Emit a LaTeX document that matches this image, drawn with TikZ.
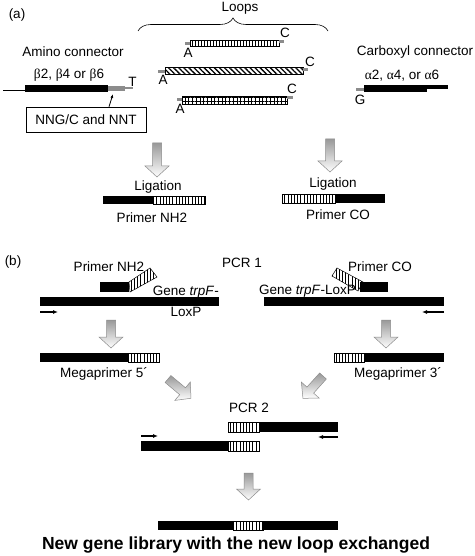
\documentclass[tikz,border=0pt]{standalone}
\usepackage{fontspec}
\setmainfont{Liberation Sans}
\newfontfamily\grk{Liberation Serif}
\usetikzlibrary{calc,patterns.meta,decorations.pathreplacing,arrows.meta}

% block arrow: (tail centre)(angle:length)
\def\blockarrow(#1)(#2:#3){%
	\begin{scope}[shift={(#1)},rotate=#2]
		\shade[draw=black!45, line width=0.5pt, top color=black!40, bottom color=white]
		(-4.5,0) -- (4.5,0) -- (4.5,#3-11) -- (12,#3-11) -- (0,#3) -- (-12,#3-11) -- (-4.5,#3-11) -- cycle;
	\end{scope}}

\begin{document}
\begin{tikzpicture}[x=1pt,y=-1pt,
	lbl/.style={inner sep=0pt, font=\fontsize{13.5}{16}\selectfont},
	bar/.style={fill=black},
	tailbar/.style={fill=black!45},
	vstripe/.style={draw=black, line width=0.5pt, pattern={Lines[angle=90,distance=3.2pt,line width=0.9pt]}},
	loopa/.style={draw=black, line width=0.5pt, pattern={Lines[angle=90,distance=3pt,line width=1pt]}},
	loopb/.style={draw=black, line width=0.5pt, pattern={Lines[angle=-45,distance=3.6pt,line width=1.3pt]}},
	loopc/.style={draw=black, line width=0.5pt, pattern={Hatch[distance=3.7pt,line width=0.6pt]}},
	smallarr/.style={line width=1.3pt, -{Latex[length=5pt,width=4pt]}}]
	%%%%% START %%%%%
	\fill[white] (0,0) rectangle (474,556);
	\useasboundingbox (0,0) rectangle (474,556);
	
	% (a)
	\node[lbl] (pa) at (17,15) {(a)};
	\node[lbl] (loops) at (240,8) {Loops};
	\draw[line width=0.6pt, decorate, decoration={brace, amplitude=13pt}] (138,31) -- (328,31);
	
	% loops
	\fill[tailbar] (185,42.5) rectangle (190,45.5);
	\draw[loopa] (190,40.5) rectangle (279,46.5);
	\fill[tailbar] (279,40.5) rectangle (284,43.5);
	\node[lbl] (a1) at (188,53) {A};
	\node[lbl] (c1) at (285,33) {C};
	
	\fill[tailbar] (158,70.5) rectangle (165,73.5);
	\draw[loopb] (165,67.5) rectangle (303,74);
	\fill[tailbar] (303,68) rectangle (308,71);
	\node[lbl] (a2) at (163,80) {A};
	\node[lbl] (c2) at (310,62) {C};
	
	\fill[tailbar] (177,98.5) rectangle (182,101.5);
	\draw[loopc] (182,96.5) rectangle (287,104);
	\fill[tailbar] (287,96.5) rectangle (293,99.5);
	\node[lbl] (a3) at (180,109) {A};
	\node[lbl] (c3) at (292,89) {C};
	
	% amino connector
	\node[lbl] (amino) at (73,52) {Amino connector};
	\node[lbl] (beta) at (69,75) {{\grk β}2, {\grk β}4 or {\grk β}6};
	\draw[line width=1.3pt] (3,90.5) -- (25,90.5);
	\fill[bar] (25,85) rectangle (108,91.7);
	\fill[tailbar] (108,86) rectangle (125,91.5);
	\fill[tailbar] (125,87.3) rectangle (133,89.5);
	\node[lbl] (tT) at (132.5,82) {T};
	\node[lbl, draw, line width=0.5pt, minimum width=120pt, minimum height=25pt] (nnbox) at (86,119.5) {NNG/C and NNT};
	\coordinate (greytip) at (113,94);
	\draw[line width=0.8pt, -{Latex[length=4pt,width=3pt]}] (nnbox.north -| 109,0) -- (greytip);
	
	% carboxyl connector
	\node[lbl] (carboxyl) at (415,52) {Carboxyl connector};
	\node[lbl] (alpha) at (402,76) {{\grk α}2, {\grk α}4, or {\grk α}6};
	\fill[tailbar] (356,88.5) rectangle (364,91.5);
	\fill[bar] (364,85) rectangle (427,92.5);
	\fill[bar] (427,85) rectangle (448,89);
	\node[lbl] (gG) at (360,100) {G};
	
	% ligation
	\blockarrow(157,143)(0:34)
	\blockarrow(330,139)(0:33)
	
	\node[lbl] (lig1) at (158,187) {Ligation};
	\fill[bar] (103,196) rectangle (153,204);
	\draw[vstripe] (153,196) rectangle (205,204);
	\node[lbl] (pnh1) at (152,218) {Primer NH2};
	
	\node[lbl] (lig2) at (333,184) {Ligation};
	\draw[vstripe] (282,194) rectangle (335,203);
	\fill[bar] (335,194) rectangle (385,203);
	\node[lbl] (pco1) at (338,215) {Primer CO};
	
	% (b)
	\node[lbl] (pb) at (13,262) {(b)};
	\node[lbl] (pcr1) at (242,263) {PCR 1};
	
	% PCR 1 left
	\node[lbl] (pnh2) at (109,267) {Primer NH2};
	\fill[bar] (100,282) rectangle (129,292);
	\draw[vstripe] (129,282) -- (150,268) -- (157,277) -- (130,292) -- cycle;
	\fill[bar] (40,297) rectangle (219,306);
	\node[lbl, anchor=east] (geneL) at (219,292) {Gene \textit{trpF}-};
	\node[lbl] (loxL) at (186,312) {LoxP};
	\coordinate (fw1a) at (40,312);
	\coordinate (fw1b) at (58,312);
	\draw[smallarr] (fw1a) -- (fw1b);
	
	% PCR 1 right
	\node[lbl] (pco2) at (380,267) {Primer CO};
	\fill[bar] (360,282) rectangle (388,292);
	\draw[vstripe] (363,282) -- (337,268) -- (332,276) -- (358,291) -- cycle;
	\fill[bar] (264,297) rectangle (444,306);
	\node[lbl, anchor=west] (geneR) at (259,291) {Gene \textit{trpF}-LoxP};
	\coordinate (rv1a) at (444,312);
	\coordinate (rv1b) at (422,312);
	\draw[smallarr] (rv1a) -- (rv1b);
	
	% megaprimers
	\blockarrow(111,320)(0:28)
	\blockarrow(386,320)(0:28)
	
	\fill[bar] (40,353) rectangle (128,362);
	\draw[vstripe] (128,353) rectangle (159,362);
	\node[lbl] (mp5) at (104,374) {Megaprimer 5´};
	
	\draw[vstripe] (334,353) rectangle (364,362);
	\fill[bar] (364,353) rectangle (444,362);
	\node[lbl] (mp3) at (398,374) {Megaprimer 3´};
	
	\blockarrow(168,379)(50:30)
	\blockarrow(323,376)(-42:30)
	
	% PCR 2
	\node[lbl] (pcr2) at (249,408) {PCR 2};
	\draw[vstripe] (228,422) rectangle (259,432);
	\fill[bar] (259,422) rectangle (338,432);
	\fill[bar] (141,441) rectangle (228,451);
	\draw[vstripe] (228,441) rectangle (259,451);
	\coordinate (fw2a) at (141,436);
	\coordinate (fw2b) at (158,436);
	\draw[smallarr] (fw2a) -- (fw2b);
	\coordinate (rv2a) at (338,437);
	\coordinate (rv2b) at (318,437);
	\draw[smallarr] (rv2a) -- (rv2b);
	
	\blockarrow(248.5,473)(0:27)
	
	% new gene
	\fill[bar] (158,521) rectangle (233,530);
	\draw[vstripe] (233,521) rectangle (263,530);
	\fill[bar] (263,521) rectangle (338,530);
	\node[inner sep=0pt, font=\fontsize{17.5}{20}\selectfont\bfseries] (newlib) at (236,545) {New gene library with the new loop exchanged};
	%%%%% END %%%%%
\end{tikzpicture}
\end{document}
